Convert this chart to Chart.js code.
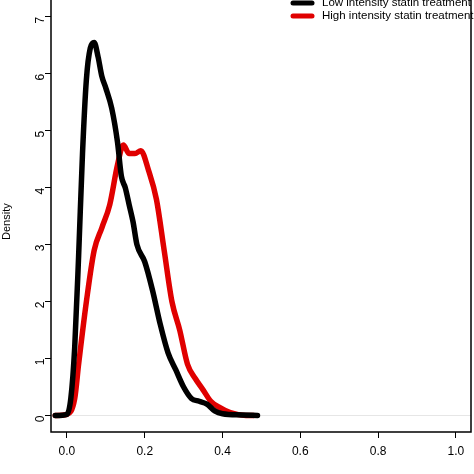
<!DOCTYPE html>
<html><head><meta charset="utf-8">
<script src="https://cdn.jsdelivr.net/npm/chart.js@4"></script>
<style>html,body{margin:0;background:#fff}#c{width:474px;height:474px}</style>
</head><body><div id="c"><canvas id="chart"></canvas></div>
<script>
const seriesLabels = ["Low intensity statin treatment", "High intensity statin treatment"];
const lowX = [-0.03, 0, 0.01, 0.02, 0.03, 0.04, 0.05, 0.06, 0.07, 0.08, 0.09, 0.10, 0.115, 0.13, 0.14, 0.15, 0.16, 0.17, 0.18, 0.2, 0.22, 0.24, 0.26, 0.28, 0.3, 0.32, 0.34, 0.36, 0.38, 0.4, 0.45, 0.49];
const lowY = [0, 0.02, 0.3, 1.2, 2.8, 4.6, 5.9, 6.45, 6.55, 6.3, 5.95, 5.75, 5.4, 4.8, 4.2, 4.0, 3.7, 3.4, 3.0, 2.7, 2.2, 1.6, 1.1, 0.8, 0.5, 0.3, 0.25, 0.2, 0.08, 0.03, 0.01, 0];
const highX = [-0.03, 0, 0.02, 0.03, 0.05, 0.07, 0.09, 0.11, 0.13, 0.145, 0.16, 0.175, 0.19, 0.21, 0.23, 0.25, 0.27, 0.29, 0.31, 0.33, 0.35, 0.37, 0.39, 0.42, 0.46, 0.48];
const highY = [0, 0.02, 0.3, 0.9, 2.0, 2.9, 3.3, 3.7, 4.4, 4.75, 4.6, 4.6, 4.65, 4.3, 3.8, 2.9, 2.0, 1.5, 0.9, 0.65, 0.45, 0.25, 0.15, 0.05, 0.0, 0];
const xTicks = [0, 0.2, 0.4, 0.6, 0.8, 1.0];
const yTicks = [0, 1, 2, 3, 4, 5, 6, 7];
const colors = ["#000000", "#e00000"];

const pts = (xs, ys) => xs.map((x, i) => ({ x, y: ys[i] }));

const frame = {
  id: "frame",
  beforeDatasetsDraw(chart) {
    const { ctx, chartArea: a, scales } = chart;
    const y0 = scales.y.getPixelForValue(0);
    ctx.save();
    ctx.strokeStyle = "#e6e6e6";
    ctx.lineWidth = 1;
    ctx.beginPath();
    ctx.moveTo(a.left, y0); ctx.lineTo(a.right, y0);
    ctx.stroke();
    ctx.restore();
  },
  afterDraw(chart) {
    const { ctx, chartArea: a } = chart;
    ctx.save();
    ctx.strokeStyle = "#000";
    ctx.lineWidth = 1.5;
    ctx.beginPath();
    ctx.moveTo(a.left, 0); ctx.lineTo(a.left, a.bottom);
    ctx.lineTo(a.right, a.bottom); ctx.lineTo(a.right, 0);
    ctx.stroke();
    // legend
    ctx.font = "11.5px 'Liberation Sans', Arial, sans-serif";
    ctx.textBaseline = "middle";
    seriesLabels.forEach((t, i) => {
      const y = 3 + i * 13;
      ctx.strokeStyle = colors[i];
      ctx.lineWidth = 5;
      ctx.lineCap = "round";
      ctx.beginPath();
      ctx.moveTo(293, y); ctx.lineTo(312, y);
      ctx.stroke();
      ctx.fillStyle = "#000";
      ctx.fillText(t, 322, y);
    });
    ctx.restore();
  }
};

new Chart(document.getElementById("chart"), {
  type: "line",
  data: {
    datasets: [
      { label: seriesLabels[0], data: pts(lowX, lowY), borderColor: colors[0], borderWidth: 5.5, tension: 0.4, cubicInterpolationMode: "monotone", pointRadius: 0, borderCapStyle: "round" },
      { label: seriesLabels[1], data: pts(highX, highY), borderColor: colors[1], borderWidth: 5.5, tension: 0.4, cubicInterpolationMode: "monotone", pointRadius: 0, borderCapStyle: "round" }
    ]
  },
  options: {
    responsive: true,
    maintainAspectRatio: false,
    animation: false,
    layout: { padding: { top: -10, right: 3, bottom: 0, left: 0 } },
    plugins: { legend: { display: false }, tooltip: { enabled: false } },
    scales: {
      x: {
        type: "linear", min: -0.041, max: 1.039,
        afterBuildTicks: (s) => { s.ticks = xTicks.map((v) => ({ value: v })); },
        afterFit: (s) => { s.height = 42; },
        grid: { drawOnChartArea: false, tickLength: 6, color: "#000" },
        border: { display: false },
        ticks: { color: "#000", font: { size: 12, family: "'Liberation Sans', Arial" }, padding: 6, maxRotation: 0, callback: (v) => v.toFixed(1) }
      },
      y: {
        min: -0.29, max: 7.1,
        afterBuildTicks: (s) => { s.ticks = yTicks.map((v) => ({ value: v })); },
        afterFit: (s) => { s.width = 51; },
        grid: { drawOnChartArea: false, tickLength: 6, color: "#000" },
        border: { display: false },
        title: { display: true, text: "Density", color: "#000", font: { size: 11, family: "'Liberation Sans', Arial" }, padding: 0 },
        ticks: { color: "#000", font: { size: 12, family: "'Liberation Sans', Arial" }, padding: 4, minRotation: 90, maxRotation: 90 }
      }
    }
  },
  plugins: [frame]
});
</script></body></html>
